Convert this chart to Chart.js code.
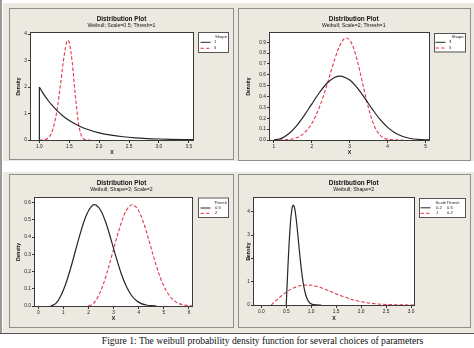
<!DOCTYPE html>
<html><head><meta charset="utf-8">
<script src="https://cdn.jsdelivr.net/npm/chart.js@4.4.0/dist/chart.umd.min.js"></script>
<style>
html,body{margin:0;padding:0;background:#fff;}
#wrap{position:relative;width:474px;height:348px;overflow:hidden;background:#fff;}
.blk{position:absolute;}
.frame{position:absolute;border:1px solid #8f8f8f;box-sizing:border-box;}
canvas{position:absolute;}
#cap{position:absolute;left:0;width:525px;top:335px;line-height:11px;text-align:center;font-family:"Liberation Serif","Times New Roman",serif;font-size:9.6px;color:#111;white-space:nowrap;}
</style></head>
<body>
<div id="wrap">
  <div class="blk" style="left:3px;top:3px;width:471px;height:158px;background:#ECE9E1"></div>
  <div class="blk" style="left:3px;top:172px;width:471px;height:161px;background:#ECE9E1"></div>
  <div class="blk" style="left:0;top:0;width:2px;height:334px;background:#9a9a9a"></div>
  <div class="blk" style="left:0;top:333px;width:474px;height:1px;background:#555"></div>
  <div class="frame" style="left:9px;top:8px;width:225px;height:152px"></div>
  <div class="frame" style="left:238px;top:8px;width:233px;height:153px"></div>
  <div class="frame" style="left:9px;top:174px;width:225px;height:154px"></div>
  <div class="frame" style="left:238px;top:174px;width:233px;height:154px"></div>
  <canvas id="c1"></canvas><canvas id="c2"></canvas><canvas id="c3"></canvas><canvas id="c4"></canvas>
  <div id="cap">Figure 1: The weibull probability density function for several choices of parameters</div>
</div>
<script>
// ---------- Data ----------
// Panel 1: Weibull; Scale=0.5; Thresh=1
const p1Shape1X = [1.0,1.05,1.1,1.15,1.2,1.3,1.4,1.5,1.6,1.7,1.8,2.0,2.2,2.4,2.6,2.8,3.0,3.2,3.4,3.57];
const p1Shape1Y = [2.0,1.810,1.638,1.482,1.341,1.098,0.899,0.736,0.602,0.493,0.404,0.271,0.181,0.122,0.082,0.055,0.037,0.025,0.016,0.012];
const p1StartX = [1.0,1.0];
const p1StartY = [0,2.0];
const p1Shape5X = [1.0,1.05,1.1,1.15,1.2,1.25,1.3,1.35,1.4,1.45,1.48,1.5,1.55,1.6,1.65,1.7,1.75,1.8,1.85];
const p1Shape5Y = [0,0.001,0.016,0.081,0.253,0.606,1.199,2.030,2.952,3.636,3.758,3.679,2.925,1.722,0.697,0.177,0.026,0.002,0];
const p1XTicks = [1.0,1.5,2.0,2.5,3.0,3.5];
const p1XLabels = ['1.0','1.5','2.0','2.5','3.0','3.5'];
const p1YTicks = [0,1,2,3,4];
const p1YLabels = ['0','1','2','3','4'];

// Panel 2: Weibull; Scale=2; Thresh=1
const p2Shape3X = [1.0,1.2,1.4,1.6,1.8,2.0,2.2,2.4,2.6,2.75,2.8,3.0,3.2,3.4,3.6,3.8,4.0,4.2,4.4,4.6,4.8,5.0,5.1];
const p2Shape3Y = [0,0.015,0.060,0.131,0.225,0.331,0.435,0.522,0.575,0.588,0.586,0.552,0.480,0.384,0.282,0.189,0.116,0.064,0.032,0.014,0.006,0.002,0.001];
const p2Shape5X = [1.0,1.4,1.6,1.8,2.0,2.2,2.4,2.5,2.6,2.7,2.8,2.9,3.0,3.1,3.2,3.3,3.4,3.5,3.6,3.7,3.8,4.0,4.2,4.4];
const p2Shape5Y = [0,0.004,0.020,0.063,0.151,0.300,0.507,0.624,0.738,0.837,0.909,0.939,0.920,0.848,0.731,0.585,0.431,0.289,0.174,0.094,0.044,0.006,0.001,0];
const p2XTicks = [1,2,3,4,5];
const p2XLabels = ['1','2','3','4','5'];
const p2YTicks = [0,0.1,0.2,0.3,0.4,0.5,0.6,0.7,0.8,0.9];
const p2YLabels = ['0.0','0.1','0.2','0.3','0.4','0.5','0.6','0.7','0.8','0.9'];

// Panel 3: Weibull; Shape=3; Scale=2
const p3Thresh05X = [0.5,0.7,0.9,1.1,1.3,1.5,1.7,1.9,2.1,2.25,2.3,2.5,2.7,2.9,3.1,3.3,3.5,3.7,3.9,4.1,4.3,4.5,4.7];
const p3Thresh05Y = [0,0.015,0.060,0.131,0.225,0.331,0.435,0.522,0.575,0.588,0.586,0.552,0.480,0.384,0.282,0.189,0.116,0.064,0.032,0.014,0.006,0.002,0.001];
const p3Thresh2X = [2.0,2.2,2.4,2.6,2.8,3.0,3.2,3.4,3.6,3.75,3.8,4.0,4.2,4.4,4.6,4.8,5.0,5.2,5.4,5.6,5.8,6.0,6.12];
const p3Thresh2Y = [0,0.015,0.060,0.131,0.225,0.331,0.435,0.522,0.575,0.588,0.586,0.552,0.480,0.384,0.282,0.189,0.116,0.064,0.032,0.014,0.006,0.002,0.001];
const p3XTicks = [0,1,2,3,4,5,6];
const p3XLabels = ['0','1','2','3','4','5','6'];
const p3YTicks = [0,0.1,0.2,0.3,0.4,0.5,0.6];
const p3YLabels = ['0.0','0.1','0.2','0.3','0.4','0.5','0.6'];

// Panel 4: Weibull; Shape=2
const p4AX = [0.5,0.52,0.54,0.56,0.58,0.6,0.62,0.64,0.66,0.68,0.7,0.72,0.74,0.76,0.78,0.8,0.84,0.88,0.92,0.96,1.0,1.05,1.1,1.2];
const p4AY = [0,0.990,1.922,2.742,3.409,3.894,4.186,4.288,4.218,4.004,3.679,3.280,2.843,2.399,1.972,1.581,0.945,0.514,0.255,0.116,0.048,0.014,0.004,0];
const p4BX = [0.2,0.3,0.4,0.5,0.6,0.7,0.8,0.9,1.0,1.1,1.2,1.4,1.6,1.8,2.0,2.2,2.4,2.6,2.8,3.0,3.06];
const p4BY = [0,0.198,0.384,0.548,0.682,0.779,0.837,0.858,0.844,0.801,0.736,0.569,0.395,0.247,0.141,0.073,0.035,0.015,0.006,0.002,0.0015];
const p4XTicks = [0,0.5,1.0,1.5,2.0,2.5,3.0];
const p4XLabels = ['0.0','0.5','1.0','1.5','2.0','2.5','3.0'];
const p4YTicks = [0,1,2,3,4];
const p4YLabels = ['0','1','2','3','4'];

const titles = ['Distribution Plot','Distribution Plot','Distribution Plot','Distribution Plot'];
const subtitles = ['Weibull; Scale=0.5; Thresh=1','Weibull; Scale=2; Thresh=1','Weibull; Shape=3; Scale=2','Weibull; Shape=2'];
const legendHeaders = [['Shape'],['Shape'],['Thresh'],['Scale','Thresh']];
const legendRows = [[['1'],['5']],[['3'],['5']],[['0.5'],['2']],[['0.2','0.5'],['1','0.2']]];

// ---------- Rendering ----------
const FONT = '"Liberation Sans", Arial, sans-serif';
const BLACK = '#262626', RED = '#e3364a', DASH = [3.5,2];
const pts = (xs, ys) => xs.map((x,i)=>({x, y: ys[i]}));

const decor = {
  id:'decor',
  beforeDraw(chart, args, o){
    const a = chart.chartArea, ctx = chart.ctx;
    ctx.save(); ctx.fillStyle = '#fff';
    ctx.fillRect(a.left, a.top, a.right-a.left, a.bottom-a.top); ctx.restore();
  },
  afterDraw(chart, args, o){
    const a = chart.chartArea, ctx = chart.ctx;
    ctx.save();
    ctx.strokeStyle = '#3a3a3a'; ctx.lineWidth = 1;
    ctx.strokeRect(Math.round(a.left)-0.5, Math.round(a.top)-0.5, Math.round(a.right-a.left)+1, Math.round(a.bottom-a.top)+1);
    ctx.fillStyle = '#111'; ctx.textAlign = 'center'; ctx.textBaseline = 'middle';
    ctx.font = 'bold 6.4px ' + FONT;
    ctx.fillText(o.title, o.tx, o.ty);
    ctx.font = '5.2px ' + FONT;
    ctx.fillText(o.subtitle, o.tx, o.sy);
    // legend
    const L = o.legend;
    ctx.fillStyle = '#fff'; ctx.fillRect(L.x, L.y, L.w, L.h);
    ctx.strokeStyle = '#555'; ctx.strokeRect(L.x+0.5, L.y+0.5, L.w, L.h);
    ctx.fillStyle = '#222'; ctx.font = '4.2px ' + FONT; ctx.textBaseline = 'middle';
    o.headers.forEach((h,i)=>{ ctx.textAlign = L.hAlign[i]; ctx.fillText(h, L.hx[i], L.hy); });
    chart.data.datasets.filter(d=>!d.noLegend).forEach((d,i)=>{
      const y = L.ry[i];
      ctx.strokeStyle = d.borderColor; ctx.lineWidth = 1; ctx.setLineDash(d.borderDash || []);
      ctx.beginPath(); ctx.moveTo(L.lx1, y); ctx.lineTo(L.lx2, y); ctx.stroke(); ctx.setLineDash([]);
      ctx.textAlign = 'left';
      o.rows[i].forEach((t,j)=> ctx.fillText(t, L.cx[j], y));
    });
    ctx.restore();
  }
};

function panel(id, cv, area, yTitleX, xTitleY, xr, yr, xt, xl, yt, yl, datasets, deco){
  const el = document.getElementById(id);
  el.style.left = cv.x+'px'; el.style.top = cv.y+'px';
  el.width = cv.w; el.height = cv.h;
  const l = area.l - cv.x, t = area.t - cv.y, r = area.r - cv.x, b = area.b - cv.y;
  const yFs = 5, xFs = 5.2;
  const wy = l - (yTitleX - cv.x - yFs/2);
  const hx = (xTitleY - cv.y) + xFs/2 - b;
  const L = deco.legend;
  const d2 = {
    title: deco.title, subtitle: deco.subtitle, headers: deco.headers, rows: deco.rows,
    tx: deco.tx - cv.x, ty: deco.ty - cv.y, sy: deco.sy - cv.y,
    legend: { x: L.x - cv.x, y: L.y - cv.y, w: L.w, h: L.h, hy: L.hy - cv.y,
      hx: L.hx.map(v=>v-cv.x), hAlign: L.hAlign, ry: L.ry.map(v=>v-cv.y),
      lx1: L.lx1 - cv.x, lx2: L.lx2 - cv.x, cx: L.cx.map(v=>v-cv.x) }
  };
  const tickFont = {family: FONT, size: 4.8, lineHeight: 1};
  return new Chart(el, {
    type: 'line',
    data: { datasets },
    options: {
      responsive: false, animation: false, devicePixelRatio: 1,
      layout: { padding: { left: l - wy, top: t, right: cv.w - r, bottom: cv.h - b - hx } },
      plugins: { legend: {display:false}, tooltip: {enabled:false}, title:{display:false}, decor: d2 },
      elements: { point: {radius:0}, line: {borderWidth:1, cubicInterpolationMode:'monotone'} },
      scales: {
        x: { type:'linear', min: xr[0], max: xr[1],
          afterFit: s => { s.height = hx; },
          afterBuildTicks: s => { s.ticks = xt.map(v=>({value:v})); },
          ticks: { callback: (v,i)=> xl[i], font: tickFont, color:'#1a1a1a', padding: 1, autoSkip:false, maxRotation:0, minRotation:0 },
          grid: { drawOnChartArea:false, drawTicks:true, tickLength:3, color:'#333', lineWidth:1 },
          border: { display:false },
          title: { display:true, text:'X', font:{family:FONT, size:xFs, weight:'bold', lineHeight:1}, padding:0, color:'#111' } },
        y: { type:'linear', min: yr[0], max: yr[1],
          afterFit: s => { s.width = wy; },
          afterBuildTicks: s => { s.ticks = yt.map(v=>({value:v})); },
          ticks: { callback: (v,i)=> yl[i], font: tickFont, color:'#1a1a1a', padding: 1, autoSkip:false },
          grid: { drawOnChartArea:false, drawTicks:true, tickLength:3, color:'#333', lineWidth:1 },
          border: { display:false },
          title: { display:true, text:'Density', font:{family:FONT, size:yFs, weight:'bold', lineHeight:1}, padding:0, color:'#111' } }
      }
    },
    plugins: [decor]
  });
}

const blackDs = (label, xs, ys, extra) => Object.assign({label, data: pts(xs,ys), borderColor: BLACK, borderWidth:1.2, pointRadius:0, fill:false}, extra||{});
const redDs = (label, xs, ys) => ({label, data: pts(xs,ys), borderColor: RED, borderWidth:1.1, borderDash: DASH, pointRadius:0, fill:false});

panel('c1', {x:0,y:0,w:237,h:165}, {l:31,t:33,r:193,b:140}, 19, 152.3, [0.86,3.57], [0,4.04],
  p1XTicks, p1XLabels, p1YTicks, p1YLabels,
  [ blackDs('1', p1Shape1X, p1Shape1Y), redDs('5', p1Shape5X, p1Shape5Y),
    blackDs('', p1StartX, p1StartY, {noLegend:true, cubicInterpolationMode:'default', tension:0}) ],
  { title: titles[0], subtitle: subtitles[0], tx:121.5, ty:19, sy:25.3, headers: legendHeaders[0], rows: legendRows[0],
    legend: {x:198, y:32, w:30, h:20, hy:36.6, hx:[227], hAlign:['right'], ry:[42.3,48.3], lx1:200.5, lx2:210.5, cx:[214]} });

panel('c2', {x:237,y:0,w:237,h:165}, {l:270,t:33,r:429,b:140}, 248.7, 152.3, [0.90,5.09], [0,0.985],
  p2XTicks, p2XLabels, p2YTicks, p2YLabels,
  [ blackDs('3', p2Shape3X, p2Shape3Y), redDs('5', p2Shape5X, p2Shape5Y) ],
  { title: titles[1], subtitle: subtitles[1], tx:353.7, ty:19, sy:25.1, headers: legendHeaders[1], rows: legendRows[1],
    legend: {x:434, y:33, w:31, h:18.5, hy:37, hx:[463.5], hAlign:['right'], ry:[42.3,48], lx1:435.5, lx2:445.5, cx:[449]} });

panel('c3', {x:0,y:165,w:237,h:168}, {l:35,t:198,r:192,b:306}, 19, 318.3, [-0.13,6.12], [0,0.627],
  p3XTicks, p3XLabels, p3YTicks, p3YLabels,
  [ blackDs('0.5', p3Thresh05X, p3Thresh05Y), redDs('2', p3Thresh2X, p3Thresh2Y) ],
  { title: titles[2], subtitle: subtitles[2], tx:121.5, ty:183.3, sy:189.2, headers: legendHeaders[2], rows: legendRows[2],
    legend: {x:198, y:197.5, w:30, h:19.5, hy:202.5, hx:[227], hAlign:['right'], ry:[208,213.3], lx1:200.5, lx2:210.5, cx:[215]} });

panel('c4', {x:237,y:165,w:237,h:168}, {l:254,t:198,r:414,b:305}, 248.7, 318.3, [-0.146,3.06], [0,4.59],
  p4XTicks, p4XLabels, p4YTicks, p4YLabels,
  [ blackDs('0.2 0.5', p4AX, p4AY), redDs('1 0.2', p4BX, p4BY) ],
  { title: titles[3], subtitle: subtitles[3], tx:353.7, ty:183.3, sy:189.3, headers: legendHeaders[3], rows: legendRows[3],
    legend: {x:419, y:198, w:46, h:19, hy:202.5, hx:[435.5,446.5], hAlign:['left','left'], ry:[207.8,213.3], lx1:420.5, lx2:430.5, cx:[436,447]} });
</script>
</body></html>
